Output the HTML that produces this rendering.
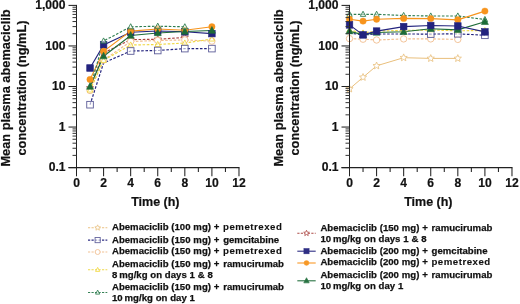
<!DOCTYPE html>
<html><head><meta charset="utf-8"><style>
html,body{margin:0;padding:0;background:#fff;}
body{width:520px;height:304px;overflow:hidden;}
svg{display:block;filter:blur(0.3px);}
.tl{font-family:"Liberation Sans", Arial, sans-serif;font-weight:bold;font-size:12.1px;fill:#111;stroke:#111;stroke-width:0.2px;}
.at{font-family:"Liberation Sans", Arial, sans-serif;font-weight:bold;font-size:12.8px;fill:#111;stroke:#111;stroke-width:0.2px;}
.lg{font-family:"Liberation Sans", Arial, sans-serif;font-weight:bold;font-size:9.6px;fill:#111;stroke:#111;stroke-width:0.25px;word-spacing:0.15px;}
.pm{font-size:9.7px;letter-spacing:0.5px;stroke-width:0.1px;}
</style></head><body>
<svg width="520" height="304" viewBox="0 0 520 304">
<g>
<path d="M90.04,88.00 L103.58,53.00 L130.66,39.60 L157.74,39.30 L184.82,37.40" fill="none" stroke="#a8403c" stroke-width="1.15" stroke-dasharray="2.6 1.6"/>
<path d="M90.04,90.50 L103.58,60.00 L130.66,41.50 L157.74,40.50 L184.82,39.90 L211.90,41.10" fill="none" stroke="#f1bd8e" stroke-width="1.15" stroke-dasharray="2.6 1.6"/>
<path d="M90.04,90.00 L103.58,60.30 L130.66,45.00 L157.74,44.50 L184.82,43.00 L211.90,39.00" fill="none" stroke="#f0d843" stroke-width="1.15" stroke-dasharray="2.6 1.6"/>
<path d="M90.04,104.70 L103.58,63.00 L130.66,51.00 L157.74,50.50 L184.82,48.60 L211.90,48.60" fill="none" stroke="#23237e" stroke-width="1.15" stroke-dasharray="2.6 1.6"/>
<path d="M90.04,68.00 L103.58,44.90 L130.66,32.20 L157.74,31.00 L184.82,31.80 L211.90,33.60" fill="none" stroke="#23237e" stroke-width="1.15"/>
<path d="M90.04,79.40 L103.58,51.30 L130.66,31.10 L157.74,29.00 L184.82,30.20 L211.90,26.75" fill="none" stroke="#f7941d" stroke-width="1.15"/>
<path d="M90.04,86.60 L103.58,56.20 L130.66,35.50 L157.74,33.00 L184.82,31.50 L211.90,30.50" fill="none" stroke="#1d6b38" stroke-width="1.15"/>
<path d="M90.04,88.00 L103.58,41.00 L130.66,26.80 L157.74,26.20 L184.82,26.80" fill="none" stroke="#2e7d4f" stroke-width="1.15" stroke-dasharray="2.6 1.6"/>
<polygon points="90.04,84.20 91.05,86.62 93.65,86.83 91.67,88.53 92.27,91.07 90.04,89.71 87.81,91.07 88.41,88.53 86.43,86.83 89.03,86.62" fill="#fff" stroke="#a8403c" stroke-width="0.8"/>
<polygon points="103.58,49.20 104.59,51.62 107.19,51.83 105.21,53.53 105.81,56.07 103.58,54.71 101.35,56.07 101.95,53.53 99.97,51.83 102.57,51.62" fill="#fff" stroke="#a8403c" stroke-width="0.8"/>
<polygon points="130.66,35.80 131.67,38.22 134.27,38.43 132.29,40.13 132.89,42.67 130.66,41.31 128.43,42.67 129.03,40.13 127.05,38.43 129.65,38.22" fill="#fff" stroke="#a8403c" stroke-width="0.8"/>
<polygon points="157.74,35.50 158.75,37.92 161.35,38.13 159.37,39.83 159.97,42.37 157.74,41.01 155.51,42.37 156.11,39.83 154.13,38.13 156.73,37.92" fill="#fff" stroke="#a8403c" stroke-width="0.8"/>
<polygon points="184.82,33.60 185.83,36.02 188.43,36.23 186.45,37.93 187.05,40.47 184.82,39.11 182.59,40.47 183.19,37.93 181.21,36.23 183.81,36.02" fill="#fff" stroke="#a8403c" stroke-width="0.8"/>
<circle cx="90.04" cy="90.50" r="3.2" fill="#fff" stroke="#f1bd8e" stroke-width="0.9"/>
<circle cx="103.58" cy="60.00" r="3.2" fill="#fff" stroke="#f1bd8e" stroke-width="0.9"/>
<circle cx="130.66" cy="41.50" r="3.2" fill="#fff" stroke="#f1bd8e" stroke-width="0.9"/>
<circle cx="157.74" cy="40.50" r="3.2" fill="#fff" stroke="#f1bd8e" stroke-width="0.9"/>
<circle cx="184.82" cy="39.90" r="3.2" fill="#fff" stroke="#f1bd8e" stroke-width="0.9"/>
<circle cx="211.90" cy="41.10" r="3.2" fill="#fff" stroke="#f1bd8e" stroke-width="0.9"/>
<polygon points="90.04,86.92 92.74,92.05 87.34,92.05" fill="rgba(255,255,255,0.5)" stroke="#f0d843" stroke-width="0.9"/>
<polygon points="103.58,57.22 106.28,62.35 100.88,62.35" fill="rgba(255,255,255,0.5)" stroke="#f0d843" stroke-width="0.9"/>
<polygon points="130.66,41.92 133.36,47.05 127.96,47.05" fill="rgba(255,255,255,0.5)" stroke="#f0d843" stroke-width="0.9"/>
<polygon points="157.74,41.42 160.44,46.55 155.04,46.55" fill="rgba(255,255,255,0.5)" stroke="#f0d843" stroke-width="0.9"/>
<polygon points="184.82,39.92 187.52,45.05 182.12,45.05" fill="rgba(255,255,255,0.5)" stroke="#f0d843" stroke-width="0.9"/>
<polygon points="211.90,35.92 214.60,41.05 209.20,41.05" fill="rgba(255,255,255,0.5)" stroke="#f0d843" stroke-width="0.9"/>
<rect x="86.74" y="101.40" width="6.6" height="6.6" fill="rgba(255,255,255,0.6)" stroke="#5c5c98" stroke-width="0.9"/>
<rect x="127.36" y="47.70" width="6.6" height="6.6" fill="rgba(255,255,255,0.6)" stroke="#5c5c98" stroke-width="0.9"/>
<rect x="154.44" y="47.20" width="6.6" height="6.6" fill="rgba(255,255,255,0.6)" stroke="#5c5c98" stroke-width="0.9"/>
<rect x="181.52" y="45.30" width="6.6" height="6.6" fill="rgba(255,255,255,0.6)" stroke="#5c5c98" stroke-width="0.9"/>
<rect x="208.60" y="45.30" width="6.6" height="6.6" fill="rgba(255,255,255,0.6)" stroke="#5c5c98" stroke-width="0.9"/>
<rect x="86.74" y="64.70" width="6.6" height="6.6" fill="#23237e" stroke="#23237e" stroke-width="0.6"/>
<rect x="100.28" y="41.60" width="6.6" height="6.6" fill="#23237e" stroke="#23237e" stroke-width="0.6"/>
<rect x="127.36" y="28.90" width="6.6" height="6.6" fill="#23237e" stroke="#23237e" stroke-width="0.6"/>
<rect x="154.44" y="27.70" width="6.6" height="6.6" fill="#23237e" stroke="#23237e" stroke-width="0.6"/>
<rect x="181.52" y="28.50" width="6.6" height="6.6" fill="#23237e" stroke="#23237e" stroke-width="0.6"/>
<rect x="208.60" y="30.30" width="6.6" height="6.6" fill="#23237e" stroke="#23237e" stroke-width="0.6"/>
<circle cx="90.04" cy="79.40" r="3.2" fill="#f7941d" stroke="#f7941d" stroke-width="0.4"/>
<circle cx="103.58" cy="51.30" r="3.2" fill="#f7941d" stroke="#f7941d" stroke-width="0.4"/>
<circle cx="130.66" cy="31.10" r="3.2" fill="#f7941d" stroke="#f7941d" stroke-width="0.4"/>
<circle cx="157.74" cy="29.00" r="3.2" fill="#f7941d" stroke="#f7941d" stroke-width="0.4"/>
<circle cx="184.82" cy="30.20" r="3.2" fill="#f7941d" stroke="#f7941d" stroke-width="0.4"/>
<circle cx="211.90" cy="26.75" r="3.2" fill="#f7941d" stroke="#f7941d" stroke-width="0.4"/>
<polygon points="90.04,82.61 93.54,89.26 86.54,89.26" fill="#1d6b38" stroke="#1d6b38" stroke-width="0.6"/>
<polygon points="103.58,52.21 107.08,58.86 100.08,58.86" fill="#1d6b38" stroke="#1d6b38" stroke-width="0.6"/>
<polygon points="130.66,31.51 134.16,38.16 127.16,38.16" fill="#1d6b38" stroke="#1d6b38" stroke-width="0.6"/>
<polygon points="157.74,29.01 161.24,35.66 154.24,35.66" fill="#1d6b38" stroke="#1d6b38" stroke-width="0.6"/>
<polygon points="184.82,27.51 188.32,34.16 181.32,34.16" fill="#1d6b38" stroke="#1d6b38" stroke-width="0.6"/>
<polygon points="211.90,26.51 215.40,33.16 208.40,33.16" fill="#1d6b38" stroke="#1d6b38" stroke-width="0.6"/>
<polygon points="103.58,37.92 106.28,43.05 100.88,43.05" fill="rgba(255,255,255,0.5)" stroke="#2e7d4f" stroke-width="0.9"/>
<polygon points="130.66,23.72 133.36,28.85 127.96,28.85" fill="rgba(255,255,255,0.5)" stroke="#2e7d4f" stroke-width="0.9"/>
<polygon points="157.74,23.12 160.44,28.25 155.04,28.25" fill="rgba(255,255,255,0.5)" stroke="#2e7d4f" stroke-width="0.9"/>
<polygon points="184.82,23.72 187.52,28.85 182.12,28.85" fill="rgba(255,255,255,0.5)" stroke="#2e7d4f" stroke-width="0.9"/>
</g>
<g>
<path d="M349.50,88.90 L363.04,77.30 L376.58,65.80 L403.66,57.70 L430.74,58.40 L457.82,58.40" fill="none" stroke="#e9bf7c" stroke-width="1.0"/>
<path d="M349.50,38.60 L363.04,39.20 L376.58,40.00 L403.66,38.90 L430.74,38.90 L457.82,39.40" fill="none" stroke="#f1bd8e" stroke-width="1.15" stroke-dasharray="2.6 1.6"/>
<path d="M349.50,30.00 L363.04,33.00 L376.58,31.00 L403.66,30.50 L430.74,30.00 L457.82,30.80 L484.90,30.50" fill="none" stroke="#f0d843" stroke-width="1.15" stroke-dasharray="2.6 1.6"/>
<path d="M349.50,33.00 L363.04,35.00 L376.58,34.00 L403.66,34.00 L430.74,34.10 L457.82,33.80 L484.90,35.30" fill="none" stroke="#23237e" stroke-width="1.15" stroke-dasharray="2.6 1.6"/>
<path d="M349.50,14.30 L363.04,14.30 L376.58,14.30 L403.66,15.50 L430.74,16.00 L457.82,16.00 L484.90,19.50" fill="none" stroke="#2e7d4f" stroke-width="1.15" stroke-dasharray="2.6 1.6"/>
<path d="M349.50,19.20 L363.04,21.10 L376.58,19.20 L403.66,18.40 L430.74,18.60 L457.82,19.80 L484.90,11.10" fill="none" stroke="#f7941d" stroke-width="1.15"/>
<path d="M349.50,31.10 L363.04,34.90 L376.58,32.50 L403.66,31.80 L430.74,28.80 L457.82,29.80 L484.90,21.80" fill="none" stroke="#1d6b38" stroke-width="1.15"/>
<path d="M349.50,24.90 L363.04,34.90 L376.58,31.10 L403.66,26.60 L430.74,25.50 L457.82,26.00 L484.90,31.90" fill="none" stroke="#23237e" stroke-width="1.15"/>
<polygon points="349.50,85.10 350.51,87.52 353.11,87.73 351.13,89.43 351.73,91.97 349.50,90.61 347.27,91.97 347.87,89.43 345.89,87.73 348.49,87.52" fill="#fff" stroke="#e9bf7c" stroke-width="0.8"/>
<polygon points="363.04,73.50 364.05,75.92 366.65,76.13 364.67,77.83 365.27,80.37 363.04,79.01 360.81,80.37 361.41,77.83 359.43,76.13 362.03,75.92" fill="#fff" stroke="#e9bf7c" stroke-width="0.8"/>
<polygon points="376.58,62.00 377.59,64.42 380.19,64.63 378.21,66.33 378.81,68.87 376.58,67.51 374.35,68.87 374.95,66.33 372.97,64.63 375.57,64.42" fill="#fff" stroke="#e9bf7c" stroke-width="0.8"/>
<polygon points="403.66,53.90 404.67,56.32 407.27,56.53 405.29,58.23 405.89,60.77 403.66,59.41 401.43,60.77 402.03,58.23 400.05,56.53 402.65,56.32" fill="#fff" stroke="#e9bf7c" stroke-width="0.8"/>
<polygon points="430.74,54.60 431.75,57.02 434.35,57.23 432.37,58.93 432.97,61.47 430.74,60.11 428.51,61.47 429.11,58.93 427.13,57.23 429.73,57.02" fill="#fff" stroke="#e9bf7c" stroke-width="0.8"/>
<polygon points="457.82,54.60 458.83,57.02 461.43,57.23 459.45,58.93 460.05,61.47 457.82,60.11 455.59,61.47 456.19,58.93 454.21,57.23 456.81,57.02" fill="#fff" stroke="#e9bf7c" stroke-width="0.8"/>
<circle cx="349.50" cy="38.60" r="3.2" fill="#fff" stroke="#f1bd8e" stroke-width="0.9"/>
<circle cx="363.04" cy="39.20" r="3.2" fill="#fff" stroke="#f1bd8e" stroke-width="0.9"/>
<circle cx="376.58" cy="40.00" r="3.2" fill="#fff" stroke="#f1bd8e" stroke-width="0.9"/>
<circle cx="403.66" cy="38.90" r="3.2" fill="#fff" stroke="#f1bd8e" stroke-width="0.9"/>
<circle cx="430.74" cy="38.90" r="3.2" fill="#fff" stroke="#f1bd8e" stroke-width="0.9"/>
<circle cx="457.82" cy="39.40" r="3.2" fill="#fff" stroke="#f1bd8e" stroke-width="0.9"/>
<polygon points="349.50,26.92 352.20,32.05 346.80,32.05" fill="rgba(255,255,255,0.5)" stroke="#f0d843" stroke-width="0.9"/>
<polygon points="363.04,29.92 365.74,35.05 360.34,35.05" fill="rgba(255,255,255,0.5)" stroke="#f0d843" stroke-width="0.9"/>
<polygon points="376.58,27.92 379.28,33.05 373.88,33.05" fill="rgba(255,255,255,0.5)" stroke="#f0d843" stroke-width="0.9"/>
<polygon points="403.66,27.42 406.36,32.55 400.96,32.55" fill="rgba(255,255,255,0.5)" stroke="#f0d843" stroke-width="0.9"/>
<polygon points="430.74,26.92 433.44,32.05 428.04,32.05" fill="rgba(255,255,255,0.5)" stroke="#f0d843" stroke-width="0.9"/>
<polygon points="457.82,27.72 460.52,32.85 455.12,32.85" fill="rgba(255,255,255,0.5)" stroke="#f0d843" stroke-width="0.9"/>
<polygon points="484.90,27.42 487.60,32.55 482.20,32.55" fill="rgba(255,255,255,0.5)" stroke="#f0d843" stroke-width="0.9"/>
<rect x="427.44" y="30.80" width="6.6" height="6.6" fill="rgba(255,255,255,0.6)" stroke="#5c5c98" stroke-width="0.9"/>
<rect x="454.52" y="30.50" width="6.6" height="6.6" fill="rgba(255,255,255,0.6)" stroke="#5c5c98" stroke-width="0.9"/>
<rect x="481.60" y="32.00" width="6.6" height="6.6" fill="rgba(255,255,255,0.6)" stroke="#5c5c98" stroke-width="0.9"/>
<polygon points="349.50,11.22 352.20,16.35 346.80,16.35" fill="rgba(255,255,255,0.5)" stroke="#2e7d4f" stroke-width="0.9"/>
<polygon points="363.04,11.22 365.74,16.35 360.34,16.35" fill="rgba(255,255,255,0.5)" stroke="#2e7d4f" stroke-width="0.9"/>
<polygon points="376.58,11.22 379.28,16.35 373.88,16.35" fill="rgba(255,255,255,0.5)" stroke="#2e7d4f" stroke-width="0.9"/>
<polygon points="403.66,12.42 406.36,17.55 400.96,17.55" fill="rgba(255,255,255,0.5)" stroke="#2e7d4f" stroke-width="0.9"/>
<polygon points="430.74,12.92 433.44,18.05 428.04,18.05" fill="rgba(255,255,255,0.5)" stroke="#2e7d4f" stroke-width="0.9"/>
<polygon points="457.82,12.92 460.52,18.05 455.12,18.05" fill="rgba(255,255,255,0.5)" stroke="#2e7d4f" stroke-width="0.9"/>
<polygon points="484.90,16.42 487.60,21.55 482.20,21.55" fill="rgba(255,255,255,0.5)" stroke="#2e7d4f" stroke-width="0.9"/>
<circle cx="349.50" cy="19.20" r="3.2" fill="#f7941d" stroke="#f7941d" stroke-width="0.4"/>
<circle cx="363.04" cy="21.10" r="3.2" fill="#f7941d" stroke="#f7941d" stroke-width="0.4"/>
<circle cx="376.58" cy="19.20" r="3.2" fill="#f7941d" stroke="#f7941d" stroke-width="0.4"/>
<circle cx="403.66" cy="18.40" r="3.2" fill="#f7941d" stroke="#f7941d" stroke-width="0.4"/>
<circle cx="430.74" cy="18.60" r="3.2" fill="#f7941d" stroke="#f7941d" stroke-width="0.4"/>
<circle cx="457.82" cy="19.80" r="3.2" fill="#f7941d" stroke="#f7941d" stroke-width="0.4"/>
<circle cx="484.90" cy="11.10" r="3.2" fill="#f7941d" stroke="#f7941d" stroke-width="0.4"/>
<polygon points="349.50,27.11 353.00,33.76 346.00,33.76" fill="#1d6b38" stroke="#1d6b38" stroke-width="0.6"/>
<polygon points="363.04,30.91 366.54,37.56 359.54,37.56" fill="#1d6b38" stroke="#1d6b38" stroke-width="0.6"/>
<polygon points="376.58,28.51 380.08,35.16 373.08,35.16" fill="#1d6b38" stroke="#1d6b38" stroke-width="0.6"/>
<polygon points="403.66,27.81 407.16,34.46 400.16,34.46" fill="#1d6b38" stroke="#1d6b38" stroke-width="0.6"/>
<polygon points="430.74,24.81 434.24,31.46 427.24,31.46" fill="#1d6b38" stroke="#1d6b38" stroke-width="0.6"/>
<polygon points="457.82,25.81 461.32,32.46 454.32,32.46" fill="#1d6b38" stroke="#1d6b38" stroke-width="0.6"/>
<polygon points="484.90,17.81 488.40,24.46 481.40,24.46" fill="#1d6b38" stroke="#1d6b38" stroke-width="0.6"/>
<rect x="346.20" y="21.60" width="6.6" height="6.6" fill="#23237e" stroke="#23237e" stroke-width="0.6"/>
<rect x="359.74" y="31.60" width="6.6" height="6.6" fill="#23237e" stroke="#23237e" stroke-width="0.6"/>
<rect x="373.28" y="27.80" width="6.6" height="6.6" fill="#23237e" stroke="#23237e" stroke-width="0.6"/>
<rect x="400.36" y="23.30" width="6.6" height="6.6" fill="#23237e" stroke="#23237e" stroke-width="0.6"/>
<rect x="427.44" y="22.20" width="6.6" height="6.6" fill="#23237e" stroke="#23237e" stroke-width="0.6"/>
<rect x="454.52" y="22.70" width="6.6" height="6.6" fill="#23237e" stroke="#23237e" stroke-width="0.6"/>
<rect x="481.60" y="28.60" width="6.6" height="6.6" fill="#23237e" stroke="#23237e" stroke-width="0.6"/>
</g>
<line x1="76.5" y1="4.9" x2="76.5" y2="175.6" stroke="#222" stroke-width="1.05"/>
<line x1="68.5" y1="167.6" x2="239.48" y2="167.6" stroke="#222" stroke-width="1.05"/>
<line x1="68.5" y1="167.60" x2="76.5" y2="167.60" stroke="#222" stroke-width="1.05"/>
<line x1="72.5" y1="155.39" x2="76.5" y2="155.39" stroke="#333" stroke-width="1"/>
<line x1="72.5" y1="148.25" x2="76.5" y2="148.25" stroke="#333" stroke-width="1"/>
<line x1="72.5" y1="143.19" x2="76.5" y2="143.19" stroke="#333" stroke-width="1"/>
<line x1="72.5" y1="139.26" x2="76.5" y2="139.26" stroke="#333" stroke-width="1"/>
<line x1="72.5" y1="136.05" x2="76.5" y2="136.05" stroke="#333" stroke-width="1"/>
<line x1="72.5" y1="133.33" x2="76.5" y2="133.33" stroke="#333" stroke-width="1"/>
<line x1="72.5" y1="130.98" x2="76.5" y2="130.98" stroke="#333" stroke-width="1"/>
<line x1="72.5" y1="128.91" x2="76.5" y2="128.91" stroke="#333" stroke-width="1"/>
<line x1="68.5" y1="127.05" x2="76.5" y2="127.05" stroke="#222" stroke-width="1.05"/>
<line x1="72.5" y1="114.84" x2="76.5" y2="114.84" stroke="#333" stroke-width="1"/>
<line x1="72.5" y1="107.70" x2="76.5" y2="107.70" stroke="#333" stroke-width="1"/>
<line x1="72.5" y1="102.64" x2="76.5" y2="102.64" stroke="#333" stroke-width="1"/>
<line x1="72.5" y1="98.71" x2="76.5" y2="98.71" stroke="#333" stroke-width="1"/>
<line x1="72.5" y1="95.50" x2="76.5" y2="95.50" stroke="#333" stroke-width="1"/>
<line x1="72.5" y1="92.78" x2="76.5" y2="92.78" stroke="#333" stroke-width="1"/>
<line x1="72.5" y1="90.43" x2="76.5" y2="90.43" stroke="#333" stroke-width="1"/>
<line x1="72.5" y1="88.36" x2="76.5" y2="88.36" stroke="#333" stroke-width="1"/>
<line x1="68.5" y1="86.50" x2="76.5" y2="86.50" stroke="#222" stroke-width="1.05"/>
<line x1="72.5" y1="74.29" x2="76.5" y2="74.29" stroke="#333" stroke-width="1"/>
<line x1="72.5" y1="67.15" x2="76.5" y2="67.15" stroke="#333" stroke-width="1"/>
<line x1="72.5" y1="62.09" x2="76.5" y2="62.09" stroke="#333" stroke-width="1"/>
<line x1="72.5" y1="58.16" x2="76.5" y2="58.16" stroke="#333" stroke-width="1"/>
<line x1="72.5" y1="54.95" x2="76.5" y2="54.95" stroke="#333" stroke-width="1"/>
<line x1="72.5" y1="52.23" x2="76.5" y2="52.23" stroke="#333" stroke-width="1"/>
<line x1="72.5" y1="49.88" x2="76.5" y2="49.88" stroke="#333" stroke-width="1"/>
<line x1="72.5" y1="47.81" x2="76.5" y2="47.81" stroke="#333" stroke-width="1"/>
<line x1="68.5" y1="45.95" x2="76.5" y2="45.95" stroke="#222" stroke-width="1.05"/>
<line x1="72.5" y1="33.74" x2="76.5" y2="33.74" stroke="#333" stroke-width="1"/>
<line x1="72.5" y1="26.60" x2="76.5" y2="26.60" stroke="#333" stroke-width="1"/>
<line x1="72.5" y1="21.54" x2="76.5" y2="21.54" stroke="#333" stroke-width="1"/>
<line x1="72.5" y1="17.61" x2="76.5" y2="17.61" stroke="#333" stroke-width="1"/>
<line x1="72.5" y1="14.40" x2="76.5" y2="14.40" stroke="#333" stroke-width="1"/>
<line x1="72.5" y1="11.68" x2="76.5" y2="11.68" stroke="#333" stroke-width="1"/>
<line x1="72.5" y1="9.33" x2="76.5" y2="9.33" stroke="#333" stroke-width="1"/>
<line x1="72.5" y1="7.26" x2="76.5" y2="7.26" stroke="#333" stroke-width="1"/>
<line x1="68.5" y1="5.40" x2="76.5" y2="5.40" stroke="#222" stroke-width="1.05"/>
<line x1="76.50" y1="167.6" x2="76.50" y2="176.29999999999998" stroke="#222" stroke-width="1.05"/>
<line x1="90.04" y1="167.6" x2="90.04" y2="171.9" stroke="#222" stroke-width="1.05"/>
<line x1="103.58" y1="167.6" x2="103.58" y2="176.29999999999998" stroke="#222" stroke-width="1.05"/>
<line x1="117.12" y1="167.6" x2="117.12" y2="171.9" stroke="#222" stroke-width="1.05"/>
<line x1="130.66" y1="167.6" x2="130.66" y2="176.29999999999998" stroke="#222" stroke-width="1.05"/>
<line x1="144.20" y1="167.6" x2="144.20" y2="171.9" stroke="#222" stroke-width="1.05"/>
<line x1="157.74" y1="167.6" x2="157.74" y2="176.29999999999998" stroke="#222" stroke-width="1.05"/>
<line x1="171.28" y1="167.6" x2="171.28" y2="171.9" stroke="#222" stroke-width="1.05"/>
<line x1="184.82" y1="167.6" x2="184.82" y2="176.29999999999998" stroke="#222" stroke-width="1.05"/>
<line x1="198.36" y1="167.6" x2="198.36" y2="171.9" stroke="#222" stroke-width="1.05"/>
<line x1="211.90" y1="167.6" x2="211.90" y2="176.29999999999998" stroke="#222" stroke-width="1.05"/>
<line x1="225.44" y1="167.6" x2="225.44" y2="171.9" stroke="#222" stroke-width="1.05"/>
<line x1="238.98" y1="167.6" x2="238.98" y2="176.29999999999998" stroke="#222" stroke-width="1.05"/>
<text x="65.5" y="9.10" text-anchor="end" class="tl">1,000</text>
<text x="65.5" y="49.65" text-anchor="end" class="tl">100</text>
<text x="65.5" y="90.20" text-anchor="end" class="tl">10</text>
<text x="65.5" y="130.75" text-anchor="end" class="tl">1</text>
<text x="65.5" y="171.30" text-anchor="end" class="tl">0.1</text>
<text x="76.50" y="186.9" text-anchor="middle" class="tl">0</text>
<text x="103.58" y="186.9" text-anchor="middle" class="tl">2</text>
<text x="130.66" y="186.9" text-anchor="middle" class="tl">4</text>
<text x="157.74" y="186.9" text-anchor="middle" class="tl">6</text>
<text x="184.82" y="186.9" text-anchor="middle" class="tl">8</text>
<text x="211.90" y="186.9" text-anchor="middle" class="tl">10</text>
<text x="238.98" y="186.9" text-anchor="middle" class="tl">12</text>
<text x="155.34" y="206.1" text-anchor="middle" class="at" style="font-size:12.5px">Time (h)</text>
<text transform="translate(10,88) rotate(-90)" text-anchor="middle" class="at">Mean plasma abemaciclib</text>
<text transform="translate(26,88) rotate(-90)" text-anchor="middle" class="at">concentration (ng/mL)</text>
<line x1="349.5" y1="4.9" x2="349.5" y2="175.6" stroke="#222" stroke-width="1.05"/>
<line x1="341.5" y1="167.6" x2="512.48" y2="167.6" stroke="#222" stroke-width="1.05"/>
<line x1="341.5" y1="167.60" x2="349.5" y2="167.60" stroke="#222" stroke-width="1.05"/>
<line x1="345.5" y1="155.39" x2="349.5" y2="155.39" stroke="#333" stroke-width="1"/>
<line x1="345.5" y1="148.25" x2="349.5" y2="148.25" stroke="#333" stroke-width="1"/>
<line x1="345.5" y1="143.19" x2="349.5" y2="143.19" stroke="#333" stroke-width="1"/>
<line x1="345.5" y1="139.26" x2="349.5" y2="139.26" stroke="#333" stroke-width="1"/>
<line x1="345.5" y1="136.05" x2="349.5" y2="136.05" stroke="#333" stroke-width="1"/>
<line x1="345.5" y1="133.33" x2="349.5" y2="133.33" stroke="#333" stroke-width="1"/>
<line x1="345.5" y1="130.98" x2="349.5" y2="130.98" stroke="#333" stroke-width="1"/>
<line x1="345.5" y1="128.91" x2="349.5" y2="128.91" stroke="#333" stroke-width="1"/>
<line x1="341.5" y1="127.05" x2="349.5" y2="127.05" stroke="#222" stroke-width="1.05"/>
<line x1="345.5" y1="114.84" x2="349.5" y2="114.84" stroke="#333" stroke-width="1"/>
<line x1="345.5" y1="107.70" x2="349.5" y2="107.70" stroke="#333" stroke-width="1"/>
<line x1="345.5" y1="102.64" x2="349.5" y2="102.64" stroke="#333" stroke-width="1"/>
<line x1="345.5" y1="98.71" x2="349.5" y2="98.71" stroke="#333" stroke-width="1"/>
<line x1="345.5" y1="95.50" x2="349.5" y2="95.50" stroke="#333" stroke-width="1"/>
<line x1="345.5" y1="92.78" x2="349.5" y2="92.78" stroke="#333" stroke-width="1"/>
<line x1="345.5" y1="90.43" x2="349.5" y2="90.43" stroke="#333" stroke-width="1"/>
<line x1="345.5" y1="88.36" x2="349.5" y2="88.36" stroke="#333" stroke-width="1"/>
<line x1="341.5" y1="86.50" x2="349.5" y2="86.50" stroke="#222" stroke-width="1.05"/>
<line x1="345.5" y1="74.29" x2="349.5" y2="74.29" stroke="#333" stroke-width="1"/>
<line x1="345.5" y1="67.15" x2="349.5" y2="67.15" stroke="#333" stroke-width="1"/>
<line x1="345.5" y1="62.09" x2="349.5" y2="62.09" stroke="#333" stroke-width="1"/>
<line x1="345.5" y1="58.16" x2="349.5" y2="58.16" stroke="#333" stroke-width="1"/>
<line x1="345.5" y1="54.95" x2="349.5" y2="54.95" stroke="#333" stroke-width="1"/>
<line x1="345.5" y1="52.23" x2="349.5" y2="52.23" stroke="#333" stroke-width="1"/>
<line x1="345.5" y1="49.88" x2="349.5" y2="49.88" stroke="#333" stroke-width="1"/>
<line x1="345.5" y1="47.81" x2="349.5" y2="47.81" stroke="#333" stroke-width="1"/>
<line x1="341.5" y1="45.95" x2="349.5" y2="45.95" stroke="#222" stroke-width="1.05"/>
<line x1="345.5" y1="33.74" x2="349.5" y2="33.74" stroke="#333" stroke-width="1"/>
<line x1="345.5" y1="26.60" x2="349.5" y2="26.60" stroke="#333" stroke-width="1"/>
<line x1="345.5" y1="21.54" x2="349.5" y2="21.54" stroke="#333" stroke-width="1"/>
<line x1="345.5" y1="17.61" x2="349.5" y2="17.61" stroke="#333" stroke-width="1"/>
<line x1="345.5" y1="14.40" x2="349.5" y2="14.40" stroke="#333" stroke-width="1"/>
<line x1="345.5" y1="11.68" x2="349.5" y2="11.68" stroke="#333" stroke-width="1"/>
<line x1="345.5" y1="9.33" x2="349.5" y2="9.33" stroke="#333" stroke-width="1"/>
<line x1="345.5" y1="7.26" x2="349.5" y2="7.26" stroke="#333" stroke-width="1"/>
<line x1="341.5" y1="5.40" x2="349.5" y2="5.40" stroke="#222" stroke-width="1.05"/>
<line x1="349.50" y1="167.6" x2="349.50" y2="176.29999999999998" stroke="#222" stroke-width="1.05"/>
<line x1="363.04" y1="167.6" x2="363.04" y2="171.9" stroke="#222" stroke-width="1.05"/>
<line x1="376.58" y1="167.6" x2="376.58" y2="176.29999999999998" stroke="#222" stroke-width="1.05"/>
<line x1="390.12" y1="167.6" x2="390.12" y2="171.9" stroke="#222" stroke-width="1.05"/>
<line x1="403.66" y1="167.6" x2="403.66" y2="176.29999999999998" stroke="#222" stroke-width="1.05"/>
<line x1="417.20" y1="167.6" x2="417.20" y2="171.9" stroke="#222" stroke-width="1.05"/>
<line x1="430.74" y1="167.6" x2="430.74" y2="176.29999999999998" stroke="#222" stroke-width="1.05"/>
<line x1="444.28" y1="167.6" x2="444.28" y2="171.9" stroke="#222" stroke-width="1.05"/>
<line x1="457.82" y1="167.6" x2="457.82" y2="176.29999999999998" stroke="#222" stroke-width="1.05"/>
<line x1="471.36" y1="167.6" x2="471.36" y2="171.9" stroke="#222" stroke-width="1.05"/>
<line x1="484.90" y1="167.6" x2="484.90" y2="176.29999999999998" stroke="#222" stroke-width="1.05"/>
<line x1="498.44" y1="167.6" x2="498.44" y2="171.9" stroke="#222" stroke-width="1.05"/>
<line x1="511.98" y1="167.6" x2="511.98" y2="176.29999999999998" stroke="#222" stroke-width="1.05"/>
<text x="338.5" y="9.10" text-anchor="end" class="tl">1,000</text>
<text x="338.5" y="49.65" text-anchor="end" class="tl">100</text>
<text x="338.5" y="90.20" text-anchor="end" class="tl">10</text>
<text x="338.5" y="130.75" text-anchor="end" class="tl">1</text>
<text x="338.5" y="171.30" text-anchor="end" class="tl">0.1</text>
<text x="349.50" y="186.9" text-anchor="middle" class="tl">0</text>
<text x="376.58" y="186.9" text-anchor="middle" class="tl">2</text>
<text x="403.66" y="186.9" text-anchor="middle" class="tl">4</text>
<text x="430.74" y="186.9" text-anchor="middle" class="tl">6</text>
<text x="457.82" y="186.9" text-anchor="middle" class="tl">8</text>
<text x="484.90" y="186.9" text-anchor="middle" class="tl">10</text>
<text x="511.98" y="186.9" text-anchor="middle" class="tl">12</text>
<text x="428.34" y="206.1" text-anchor="middle" class="at" style="font-size:12.5px">Time (h)</text>
<text transform="translate(283,88) rotate(-90)" text-anchor="middle" class="at">Mean plasma abemaciclib</text>
<text transform="translate(299,88) rotate(-90)" text-anchor="middle" class="at">concentration (ng/mL)</text>
<g opacity="0.95"><line x1="88" y1="227.8" x2="107.3" y2="227.8" stroke="#e9bf7c" stroke-width="1.1" stroke-dasharray="2.2 1.3"/><polygon points="97.65,224.84 98.43,226.72 100.47,226.88 98.92,228.21 99.39,230.20 97.65,229.13 95.91,230.20 96.38,228.21 94.83,226.88 96.87,226.72" fill="#fff" stroke="#e9bf7c" stroke-width="0.8"/></g>
<g opacity="0.95"><line x1="88" y1="240.1" x2="107.3" y2="240.1" stroke="#23237e" stroke-width="1.1" stroke-dasharray="2.2 1.3"/><rect x="95.08" y="237.53" width="5.148" height="5.148" fill="rgba(255,255,255,0.6)" stroke="#5c5c98" stroke-width="0.9"/></g>
<g opacity="0.95"><line x1="88" y1="252.0" x2="107.3" y2="252.0" stroke="#f1bd8e" stroke-width="1.1" stroke-dasharray="2.2 1.3"/><circle cx="97.65" cy="252.00" r="2.4960000000000004" fill="#fff" stroke="#f1bd8e" stroke-width="0.9"/></g>
<g opacity="0.95"><line x1="88" y1="269.8" x2="107.3" y2="269.8" stroke="#f0d843" stroke-width="1.1" stroke-dasharray="2.2 1.3"/><polygon points="97.65,267.40 99.76,271.40 95.54,271.40" fill="rgba(255,255,255,0.5)" stroke="#f0d843" stroke-width="0.9"/></g>
<g opacity="0.95"><line x1="88" y1="292.5" x2="107.3" y2="292.5" stroke="#2e7d4f" stroke-width="1.1" stroke-dasharray="2.2 1.3"/><polygon points="97.65,290.10 99.76,294.10 95.54,294.10" fill="rgba(255,255,255,0.5)" stroke="#2e7d4f" stroke-width="0.9"/></g>
<g opacity="0.95"><line x1="297.3" y1="233.2" x2="315.7" y2="233.2" stroke="#a8403c" stroke-width="1.1" stroke-dasharray="2.2 1.3"/><polygon points="306.50,230.24 307.28,232.12 309.32,232.28 307.77,233.61 308.24,235.60 306.50,234.53 304.76,235.60 305.23,233.61 303.68,232.28 305.72,232.12" fill="#fff" stroke="#a8403c" stroke-width="0.8"/></g>
<g opacity="0.95"><line x1="297.3" y1="251.2" x2="315.7" y2="251.2" stroke="#23237e" stroke-width="1.1"/><rect x="303.93" y="248.63" width="5.148" height="5.148" fill="#23237e" stroke="#23237e" stroke-width="0.6"/></g>
<g opacity="0.95"><line x1="297.3" y1="263.0" x2="315.7" y2="263.0" stroke="#f7941d" stroke-width="1.1"/><circle cx="306.50" cy="263.00" r="2.4960000000000004" fill="#f7941d" stroke="#f7941d" stroke-width="0.4"/></g>
<g opacity="0.95"><line x1="297.3" y1="280.8" x2="315.7" y2="280.8" stroke="#1d6b38" stroke-width="1.1"/><polygon points="306.50,277.69 309.23,282.87 303.77,282.87" fill="#1d6b38" stroke="#1d6b38" stroke-width="0.6"/></g>
<text x="112" y="230.0" class="lg">Abemaciclib (100 mg) +<tspan dx="0.3" class="pm"> pemetrexed</tspan></text>
<text x="112" y="242.8" class="lg">Abemaciclib (150 mg) +<tspan dx="1"> gemcitabine</tspan></text>
<text x="112" y="254.4" class="lg">Abemaciclib (150 mg) +<tspan dx="0.3" class="pm"> pemetrexed</tspan></text>
<text x="112" y="266.7" class="lg">Abemaciclib (150 mg) +<tspan dx="1"> ramucirumab</tspan></text>
<text x="112" y="278.4" class="lg">8&#8201;mg/kg on days 1 &amp; 8</text>
<text x="112" y="290.2" class="lg">Abemaciclib (150 mg) +<tspan dx="1"> ramucirumab</tspan></text>
<text x="112" y="300.9" class="lg">10&#8201;mg/kg on day 1</text>
<text x="320.4" y="230.6" class="lg">Abemaciclib (150 mg) +<tspan dx="1"> ramucirumab</tspan></text>
<text x="320.4" y="242.0" class="lg">10&#8201;mg/kg on days 1 &amp; 8</text>
<text x="320.4" y="254.0" class="lg">Abemaciclib (200 mg) +<tspan dx="1"> gemcitabine</tspan></text>
<text x="320.4" y="265.3" class="lg">Abemaciclib (200 mg) +<tspan dx="0.3" class="pm"> pemetrexed</tspan></text>
<text x="320.4" y="277.5" class="lg">Abemaciclib (200 mg) +<tspan dx="1"> ramucirumab</tspan></text>
<text x="320.4" y="289.2" class="lg">10&#8201;mg/kg on day 1</text>
</svg>
</body></html>
